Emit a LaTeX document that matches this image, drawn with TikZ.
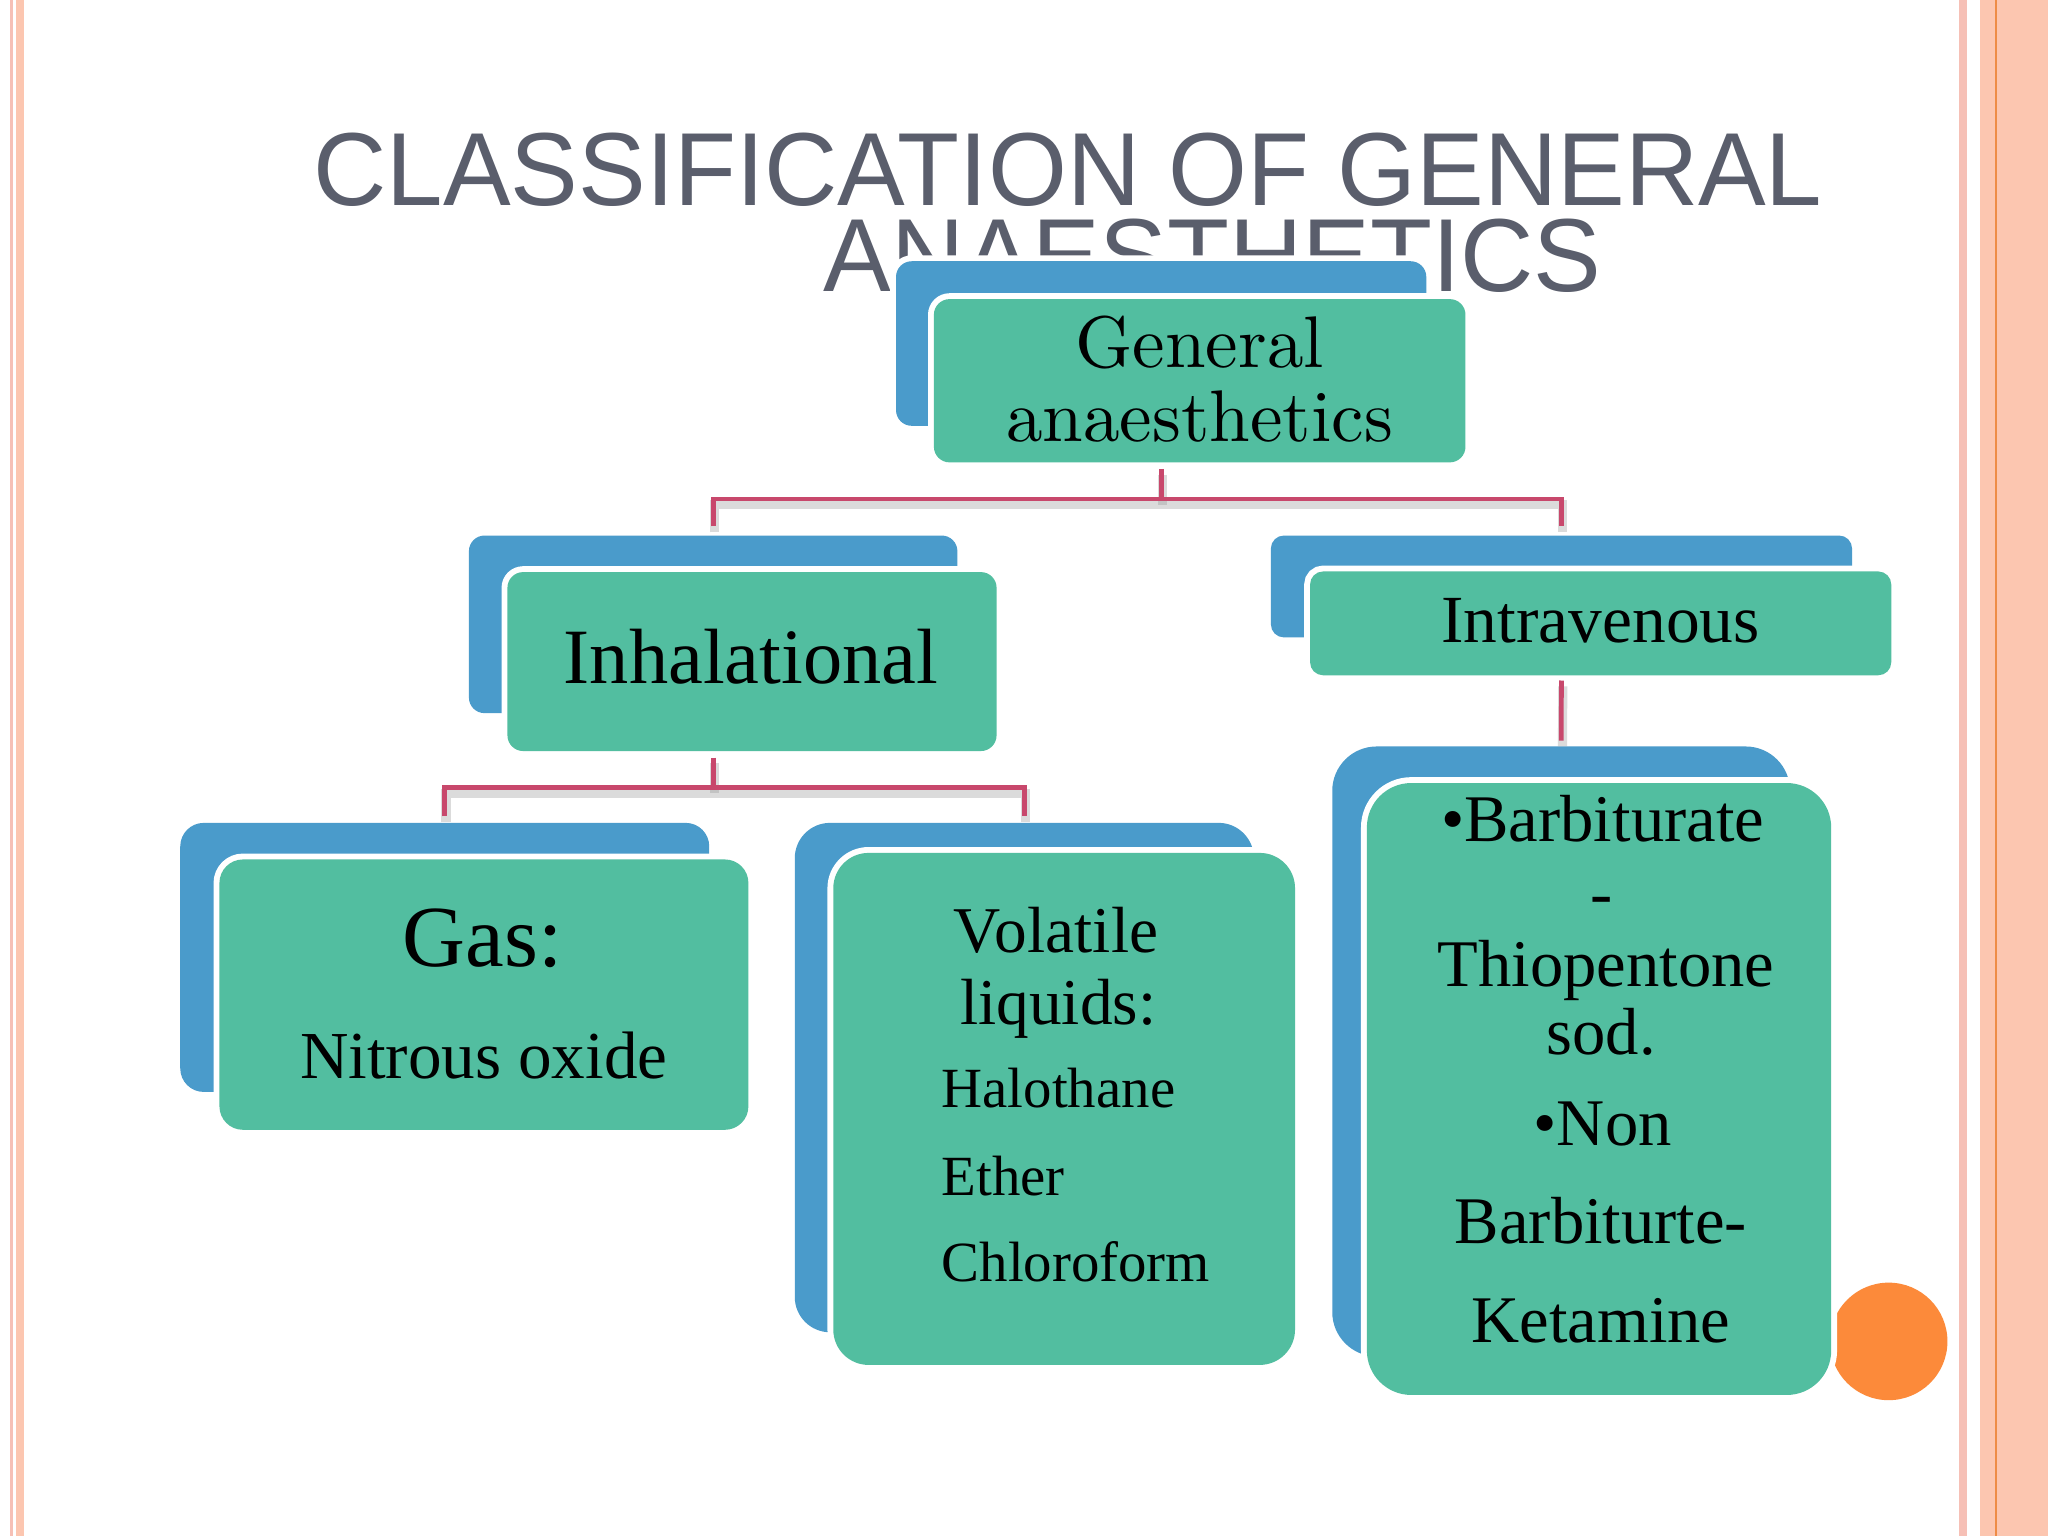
\documentclass[tikz,border=0pt]{standalone}
\usepackage{fontspec}
\usepackage{graphicx}
\newfontfamily\tnr{Liberation Serif}
\newfontfamily\arialf{Liberation Sans}
\newfontfamily\lmten{lmroman10-regular.otf}
\definecolor{boxblue}{RGB}{74,155,203}
\definecolor{boxgreen}{RGB}{82,190,160}
\definecolor{titlegray}{RGB}{90,94,108}
\definecolor{connpink}{RGB}{200,72,108}
\definecolor{dotorange}{RGB}{252,138,58}
\definecolor{stripepink}{RGB}{246,192,182}
\definecolor{stripesalmon}{RGB}{252,198,176}
\definecolor{stripeorange}{RGB}{238,140,70}
\tikzset{
  backbox/.style={rectangle, fill=boxblue, inner sep=0pt, outer sep=0pt, preaction={draw=white, line width=9pt}},
  frontbox/.style={rectangle, fill=boxgreen, inner sep=0pt, outer sep=0pt, preaction={draw=white, line width=9pt}},
  conn/.style={draw=connpink, line width=3.6pt, preaction={draw=black!40, line width=7pt, opacity=.35, transform canvas={shift={(1pt,-4.5pt)}}}},
  txt/.style={inner sep=0pt, outer sep=0pt, anchor=base, text=black},
  ltxt/.style={inner sep=0pt, outer sep=0pt, anchor=base west, text=black},
  ttl/.style={inner sep=0pt, outer sep=0pt, anchor=base west, text=titlegray, font=\arialf\fontsize{79.5}{80}\selectfont},
}
\begin{document}
\begin{tikzpicture}[x=1pt,y=-1pt]
% canvas
\fill[white] (0,0) rectangle (1568,1176);
\useasboundingbox (0,0) rectangle (1568,1176);
% border stripes
\fill[stripepink] (7.7,0) rectangle (10.2,1176);
\fill[stripesalmon] (12.3,0) rectangle (18.4,1176);
\fill[stripepink] (1499.6,0) rectangle (1505.8,1176);
\fill[stripesalmon] (1516,0) rectangle (1568,1176);
\fill[stripeorange] (1527.5,0) rectangle (1529,1176);
% title
\node[ttl] (title1) at (240,157.7) {\scalebox{0.977}[1]{CLASSIFICATION OF GENERAL}};
\node[ttl] (title2) at (630.5,223) {\scalebox{0.977}[1]{ANAESTHETICS}};
% orange dot
\node[circle, fill=dotorange, minimum size=90pt, inner sep=0pt] (dot) at (1446,1027) {};
% General anaesthetics
\node[backbox, rounded corners=12pt, minimum width=406pt, minimum height=126pt] (bgen) at (889,263) {};
\node[frontbox, rounded corners=12pt, minimum width=407pt, minimum height=125pt] (gen) at (918.5,291.5) {};
\node[txt, font=\lmten\fontsize{56}{56}\selectfont] (tgen1) at (918.5,281) {General};
\node[txt, font=\lmten\fontsize{56}{56}\selectfont] (tgen2) at (918.4,338) {anaesthetics};
% Inhalational
\node[backbox, rounded corners=12pt, minimum width=374pt, minimum height=136pt] (binh) at (546,478) {};
\node[frontbox, rounded corners=12pt, minimum width=374.5pt, minimum height=137pt] (inh) at (575.75,506.5) {};
\node[txt, font=\tnr\fontsize{60}{60}\selectfont] (tinh) at (575,523.2) {Inhalational};
% Intravenous
\node[backbox, rounded corners=10pt, minimum width=445pt, minimum height=78pt] (bint) at (1195.5,449) {};
\node[frontbox, rounded corners=10pt, minimum width=445pt, minimum height=79.5pt] (int) at (1225.5,477.25) {};
\node[txt, font=\tnr\fontsize{51.6}{52}\selectfont] (tint) at (1225.4,492) {Intravenous};
% Gas
\node[backbox, rounded corners=18pt, minimum width=405pt, minimum height=206pt] (bgas) at (340.5,733) {};
\node[frontbox, rounded corners=18pt, minimum width=405pt, minimum height=207pt] (gas) at (370.5,761.5) {};
\node[txt, font=\tnr\fontsize{66.7}{67}\selectfont] (tgas1) at (369.4,740) {Gas:};
\node[txt, font=\tnr\fontsize{51.4}{52}\selectfont] (tgas2) at (370.4,825.6) {Nitrous oxide};
% Volatile liquids
\node[backbox, rounded corners=27pt, minimum width=351.5pt, minimum height=390pt] (bvol) at (784.25,825) {};
\node[frontbox, rounded corners=27pt, minimum width=353.5pt, minimum height=392pt] (vol) at (814.75,849) {};
\node[txt, font=\tnr\fontsize{50}{50}\selectfont] (tvol1) at (808.4,729.6) {V\kern-0.09em olatile};
\node[txt, font=\tnr\fontsize{50}{50}\selectfont] (tvol2) at (810.2,784) {liquids:};
\node[ltxt, font=\tnr\fontsize{43.5}{44}\selectfont] (tvol3) at (721,848) {Halothane};
\node[ltxt, font=\tnr\fontsize{43.5}{44}\selectfont] (tvol4) at (721,915) {Ether};
\node[ltxt, font=\tnr\fontsize{43.5}{44}\selectfont] (tvol5) at (721,981) {Chloroform};
% Barbiturate
\node[backbox, rounded corners=34pt, minimum width=350.5pt, minimum height=467pt] (bbar) at (1195.25,805) {};
\node[frontbox, rounded corners=34pt, minimum width=355.5pt, minimum height=468.5pt] (bar) at (1224.25,833.75) {};
\node[txt, font=\tnr\fontsize{51}{51}\selectfont] (tbar1) at (1227,644.6) {•Barbiturate};
\node[txt, font=\tnr\fontsize{51}{51}\selectfont] (tbar2) at (1226.3,701) {-};
\node[txt, font=\tnr\fontsize{51}{51}\selectfont] (tbar3) at (1229.5,755.2) {Thiopentone};
\node[txt, font=\tnr\fontsize{51}{51}\selectfont] (tbar4) at (1226,807.3) {sod.};
\node[txt, font=\tnr\fontsize{51}{51}\selectfont] (tbar5) at (1227,877) {•Non};
\node[txt, font=\tnr\fontsize{51}{51}\selectfont] (tbar6) at (1225.7,951.7) {Barbiturte-};
\node[txt, font=\tnr\fontsize{51}{51}\selectfont] (tbar7) at (1225.7,1028) {Ketamine};
% connectors
\draw[conn] ([yshift=-5pt]gen.south -| bgen.south) -- ++(0,23) coordinate (j1);
\draw[conn] ([yshift=7pt]binh.north) |- (j1) -| ([yshift=7pt]bint.north);
\draw[conn] ([yshift=-5pt]inh.south -| binh.south) -- ++(0,23) coordinate (j2);
\draw[conn] ([yshift=5pt]bgas.north) |- (j2) -| ([yshift=5pt]bvol.north);
\draw[conn] ([yshift=-4pt]int.south -| bint.south) -- ([yshift=4.5pt]bbar.north);
\end{tikzpicture}
\end{document}
